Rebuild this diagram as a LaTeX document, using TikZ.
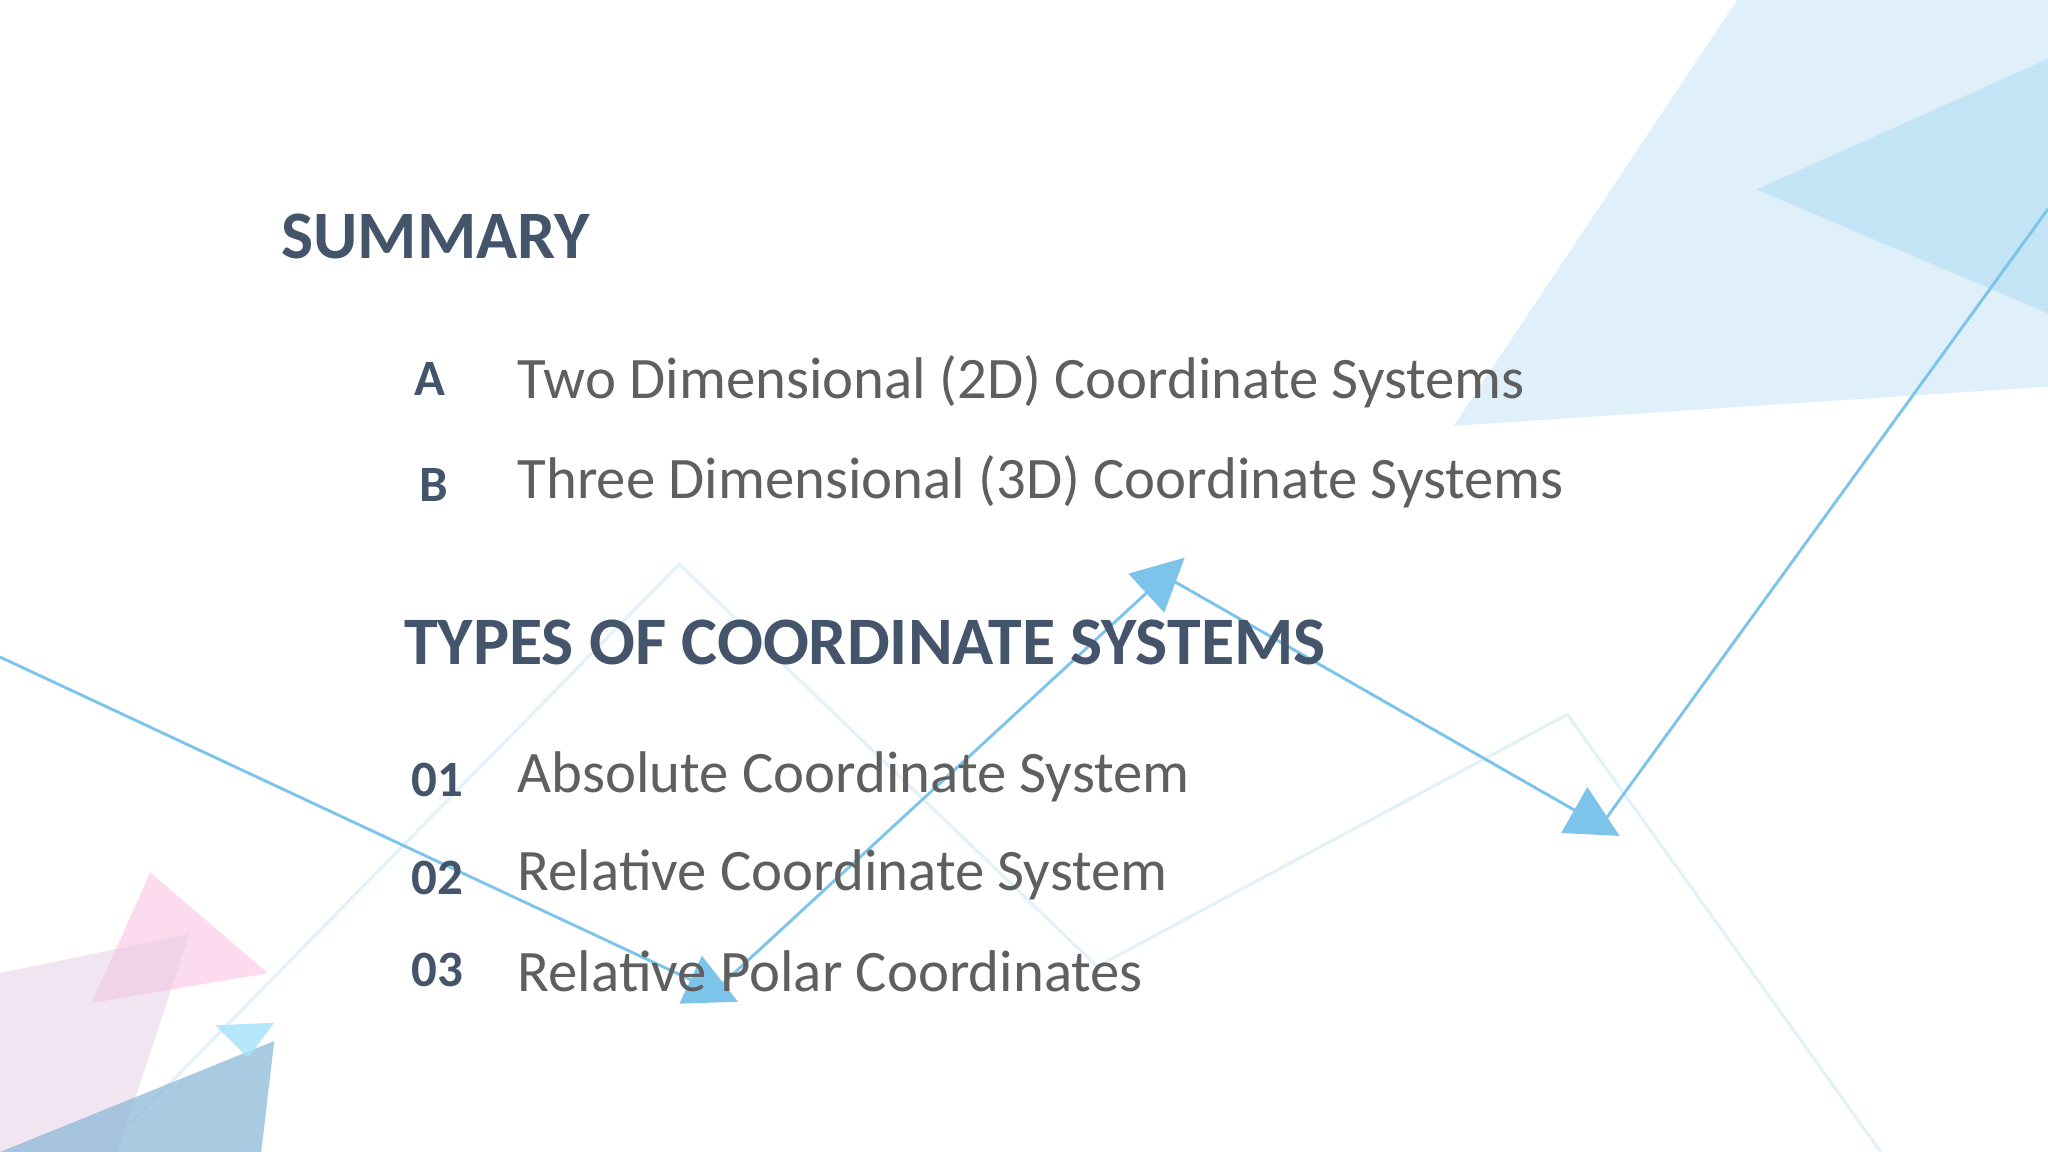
\documentclass[tikz,border=0pt]{standalone}
\usepackage{fontspec}
\setmainfont{Carlito}
\usetikzlibrary{arrows.meta}
\definecolor{hd}{HTML}{44546A}
\definecolor{tx}{HTML}{5F5F5F}
\definecolor{ln}{HTML}{7CC4EA}
\definecolor{fa}{HTML}{E3F1F8}
\definecolor{sb}{HTML}{8DBAD8}
\tikzset{
 head/.style={anchor=west,font=\bfseries\fontsize{26}{30}\selectfont,text=hd,inner sep=0},
 lab/.style={anchor=west,font=\bfseries\fontsize{19.5}{22}\selectfont,text=hd,inner sep=0},
 item/.style={anchor=west,font=\fontsize{22.5}{26}\selectfont,text=tx,inner sep=0},
 arr/.style={draw=ln,line width=1.1pt,-{Triangle[length=20pt,width=20pt]}},
}
\begin{document}
\begin{tikzpicture}[x=0.5pt,y=-0.5pt]
\useasboundingbox (0,0) rectangle (1568,882);
\fill[white] (0,0) rectangle (1568,882);
% upper right triangles
\fill[ln!30,opacity=0.8] (1330,0) -- (1113,326) -- (1568,296) -- (1568,0) -- (1450,0) -- cycle;
\fill[ln!55,opacity=0.7] (1345,145) -- (1568,45) -- (1568,240) -- cycle;
% faint lines
\draw[fa,line width=1.2pt] (100,860) -- (520,432) -- (840,740) -- (1200,547) -- (1440,882);
% bottom left triangles
\fill[magenta!25,opacity=0.55] (115,668) -- (70,768) -- (205,745) -- cycle;
\fill[violet!20,opacity=0.5] (0,745) -- (145,715) -- (90,882) -- (0,882) -- cycle;
\fill[sb,opacity=0.75] (0,882) -- (210,797) -- (200,882) -- cycle;
\fill[cyan!35,opacity=0.8] (165,785) -- (210,783) -- (190,810) -- cycle;
% arrow line
\coordinate (p0) at (0,503);
\coordinate (p1) at (565,767);
\coordinate (p1s) at (548,758);
\coordinate (p2) at (907,427);
\coordinate (p2s) at (890,440);
\coordinate (p3) at (1240,640);
\coordinate (p3s) at (1225,633);
\coordinate (p4) at (1568,160);
\draw[arr] (p0) -- (p1);
\draw[arr] (p1s) -- (p2);
\draw[arr] (p2s) -- (p3);
\draw[draw=ln,line width=1.1pt] (p3s) -- (p4);
% text
\node[head] (sum) at (215,181) {SUMMARY};
\node[lab] (la) at (317,290) {A};
\node[item] (ta) at (396,292) {Two Dimensional (2D) Coordinate Systems};
\node[lab] (lb) at (321,371) {B};
\node[item] (tb) at (396,369) {Three Dimensional (3D) Coordinate Systems};
\node[head] (typ) at (309,492) {TYPES OF COORDINATE SYSTEMS};
\node[lab] (l1) at (315,597) {01};
\node[item] (t1) at (396,595) {Absolute Coordinate System};
\node[lab] (l2) at (315,672) {02};
\node[item] (t2) at (396,670) {Relative Coordinate System};
\node[lab] (l3) at (315,743) {03};
\node[item] (t3) at (396,744) {Relative Polar Coordinates};
\end{tikzpicture}
\end{document}
